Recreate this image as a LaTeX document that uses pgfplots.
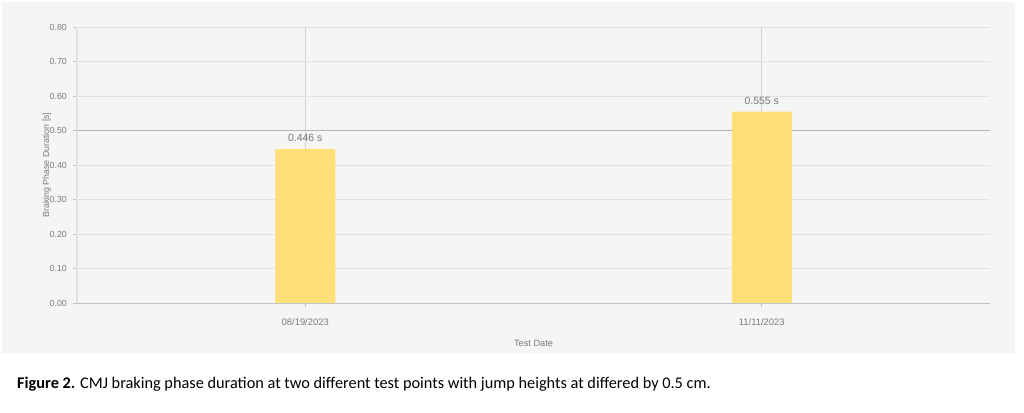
\documentclass[border=0pt]{standalone}
\usepackage{pgfplots}
\pgfplotsset{compat=1.18}
\usepackage{fontspec}
\setmainfont{Liberation Sans}
\newfontfamily\capfont{Carlito}
\definecolor{bgc}{HTML}{F5F5F5}
\definecolor{gridc}{HTML}{E2E2E2}
\definecolor{vgridc}{HTML}{D2D2D2}
\definecolor{axc}{HTML}{C4C4C4}
\definecolor{refc}{HTML}{B4B4B4}
\definecolor{txtc}{HTML}{7A7A7A}
\definecolor{barc}{HTML}{FFE078}
\begin{document}
\begin{tikzpicture}
\fill[white] (0,0) rectangle (1024bp,413bp);
\fill[bgc] (2bp,60bp) rectangle (1015bp,411bp);
\begin{axis}[
  at={(77bp,110bp)}, anchor=south west,
  scale only axis, width=913bp, height=276bp,
  xmin=-0.5, xmax=1.5, ymin=0, ymax=0.8,
  xtick={0,1}, xticklabels={08/19/2023,11/11/2023},
  ytick={0,0.1,...,0.8},
  axis x line*=bottom, axis y line*=left,
  axis line style={axc, line width=0.9bp, -},
  y axis line style={draw=gridc, line width=1.4bp},
  tick align=outside, major tick length=4bp,
  tick style={axc, line width=0.6bp},
  ymajorgrids, xmajorgrids,
  y grid style={gridc, line width=0.7bp},
  x grid style={vgridc, line width=0.7bp},
  /pgf/number format/assume math mode=true,
  yticklabel style={/pgf/number format/fixed, /pgf/number format/fixed zerofill, /pgf/number format/precision=2, font=\fontsize{8.8bp}{10bp}\selectfont, text=txtc, anchor=east, inner sep=0pt, xshift=-6bp},
  xticklabel style={font=\fontsize{9.4bp}{10bp}\selectfont, text=txtc, anchor=center, yshift=-15bp},
  xlabel={Test Date},
  xlabel style={at={(axis description cs:0.5,0)}, anchor=center, yshift=-40bp, font=\fontsize{9.2bp}{10bp}\selectfont, text=txtc},
  ylabel={Braking Phase Duration [s]},
  ylabel style={at={(axis description cs:-0.033,0.5)}, anchor=center, font=\fontsize{8.8bp}{10bp}\selectfont, text=txtc},
  clip=false,
]
\addplot[refc, line width=0.9bp, forget plot] coordinates {(-0.5,0.5) (1.5,0.5)};
\addplot[ybar, bar width=60bp, fill=barc, draw=none,
  nodes near coords={\pgfmathprintnumber[fixed,fixed zerofill,precision=3]{\pgfplotspointmeta}~s},
  nodes near coords style={font=\fontsize{10.5bp}{12bp}\selectfont, text=txtc, anchor=south, inner sep=0pt, yshift=7bp, /pgf/number format/assume math mode=true},
] coordinates {(0,0.446) (1,0.555)};
\end{axis}
\node[anchor=base west, inner sep=0pt] at (17bp,25bp) {\capfont\fontsize{16.3bp}{18bp}\selectfont\textbf{Figure 2.} CMJ braking phase duration at two different test points with jump heights at differed by 0.5 cm.};
\end{tikzpicture}
\end{document}
